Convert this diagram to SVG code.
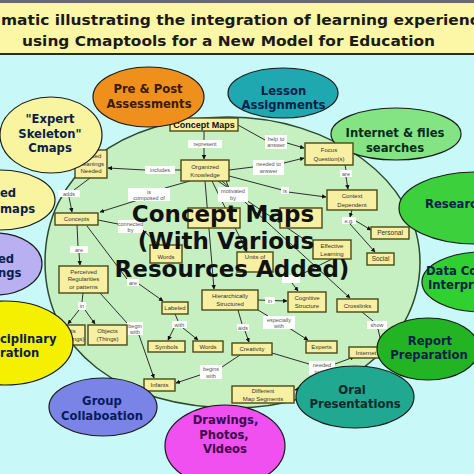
<svg xmlns="http://www.w3.org/2000/svg" width="474" height="474" viewBox="0 0 474 474">
<defs>
<marker id="ah" viewBox="0 0 10 10" refX="9" refY="5" markerWidth="5" markerHeight="5" orient="auto"><path d="M0,0 L10,5 L0,10 z" fill="#111"/></marker>
<style>
.ttl{font-family:"DejaVu Sans",sans-serif;font-weight:bold;font-size:14.5px;fill:#1a1a1a}
.et{font-family:"DejaVu Sans",sans-serif;font-weight:bold;font-size:11.6px;text-anchor:middle}
.es{stroke:#1a1a1a;stroke-width:1.2}
.box{fill:#f7efa2;stroke:#4a4a18;stroke-width:1.4}
.bt{font-family:"Liberation Sans",sans-serif;font-size:6px;fill:#333;text-anchor:middle}
.lb{fill:#ffffff}
.lt{font-family:"Liberation Sans",sans-serif;font-size:5.5px;fill:#555;text-anchor:middle}
.c{stroke:#1a1a1a;stroke-width:0.9;fill:none}
.ca{stroke:#1a1a1a;stroke-width:0.9;fill:none;marker-end:url(#ah)}
.big{font-family:"DejaVu Sans",sans-serif;font-weight:bold;font-size:23px;fill:#111;text-anchor:middle}
</style>
</defs>
<rect x="0" y="0" width="474" height="474" fill="#c8f8f8"/>
<g id="banner">
<rect x="0" y="0" width="474" height="55" fill="#fbf7a6"/>
<rect x="0" y="0" width="474" height="3" fill="#686868"/>
<rect x="0" y="53" width="474" height="2" fill="#2a2a2a"/>
<text class="ttl" x="1" y="25" textLength="478" lengthAdjust="spacingAndGlyphs">matic  illustrating the integration of learning experienc</text>
<text class="ttl" x="22" y="46" textLength="413" lengthAdjust="spacingAndGlyphs">using Cmaptools for a New Model for Education</text>
</g>
<g id="main-ellipse">
<path d="M45,262 C45,175 120,117 228,117 C330,117 420,180 420,262 C420,350 330,408 235,408 C120,408 45,350 45,262 Z" fill="#c6f0c2" stroke="#2c4a2c" stroke-width="1.5"/>
</g>
<g id="n-internet">
<ellipse class="es" cx="396" cy="134" rx="65" ry="26" fill="#84e484"/>
<text class="et" x="395" y="137" fill="#0a2a1a">Internet &amp; files</text>
<text class="et" x="395" y="152" fill="#0a2a1a">searches</text>
</g>
<g id="connectors">
<path class="ca" d="M204,131 L204,159"/>
<path class="c" d="M181,170 L175,170"/>
<path class="ca" d="M145,170 L108,168"/>
<path class="c" d="M190,181 L165,188"/>
<path class="ca" d="M138,200 L100,212"/>
<path class="c" d="M90,178 L74,190"/>
<path class="ca" d="M69,197 L72,212"/>
<path class="c" d="M238,125 L265,140"/>
<path class="ca" d="M287,143 L304,148"/>
<path class="c" d="M229,170 L253,167"/>
<path class="ca" d="M284,163 L304,158"/>
<path class="c" d="M229,176 L282,190"/>
<path class="ca" d="M288,192 L326,197"/>
<path class="c" d="M226,181 L229,188"/>
<path class="ca" d="M345,165 L346,170 M346,177 L348,189"/>
<path class="ca" d="M352,210 L350,217"/>
<path class="ca" d="M356,221 L371,230"/>
<path class="ca" d="M350,224 L375,252"/>
<path class="c" d="M98,220 L118,224"/>
<path class="ca" d="M143,230 L160,246"/>
<path class="c" d="M77,225 L78,246"/>
<path class="ca" d="M79,253 L80,265"/>
<path class="c" d="M87,226 L127,279"/>
<path class="ca" d="M139,284 L163,301"/>
<path class="ca" d="M205,181 L214,289"/>
<path class="ca" d="M212,181 L247,252"/>
<path class="ca" d="M218,181 L314,246"/>
<path class="ca" d="M222,181 L350,298"/>
<path class="c" d="M332,259 L298,276"/>
<path class="ca" d="M292,283 L298,291"/>
<path class="c" d="M83,293 L82,302"/>
<path class="ca" d="M79,310 L68,324"/>
<path class="ca" d="M85,310 L95,324"/>
<path class="c" d="M100,293 L127,323"/>
<path class="ca" d="M139,335 L154,378"/>
<path class="c" d="M175,314 L178,321"/>
<path class="ca" d="M174,328 L168,340"/>
<path class="ca" d="M183,328 L198,340"/>
<path class="ca" d="M258,300 L287,301"/>
<path class="c" d="M238,310 L242,324"/>
<path class="ca" d="M245,331 L249,342"/>
<path class="c" d="M258,310 L268,316"/>
<path class="ca" d="M289,328 L308,340"/>
<path class="c" d="M240,355 L222,367"/>
<path class="ca" d="M200,375 L176,383"/>
<path class="c" d="M272,353 L309,364"/>
<path class="ca" d="M335,364 L354,357"/>
<path class="c" d="M362,312 L373,321"/>
<path class="ca" d="M378,329 L382,346"/>
<path class="ca" d="M352,376 L295,390"/>
</g>
<g id="labels">
<rect class="lb" x="188" y="140" width="34" height="8"/><text class="lt" x="205" y="146">represent</text>
<rect class="lb" x="145" y="166" width="30" height="8"/><text class="lt" x="160" y="172">includes</text>
<rect class="lb" x="128" y="188" width="42" height="13"/><text class="lt" x="149" y="193.5">is</text><text class="lt" x="149" y="199.5">composed of</text>
<rect class="lb" x="58" y="190" width="22" height="7"/><text class="lt" x="69" y="195.5">adds</text>
<rect class="lb" x="265" y="135" width="22" height="14"/><text class="lt" x="276" y="140.5">help to</text><text class="lt" x="276" y="147">answer</text>
<rect class="lb" x="253" y="160" width="31" height="15"/><text class="lt" x="268.5" y="166">needed to</text><text class="lt" x="268.5" y="173">answer</text>
<rect class="lb" x="281" y="187" width="8" height="7"/><text class="lt" x="285" y="192.5">is</text>
<rect class="lb" x="218" y="187" width="30" height="15"/><text class="lt" x="233" y="193">motivated</text><text class="lt" x="233" y="200">by</text>
<rect class="lb" x="340" y="170" width="12" height="7"/><text class="lt" x="346" y="175.5">are</text>
<rect class="lb" x="342" y="217" width="14" height="7"/><text class="lt" x="349" y="222.5">e.g.</text>
<rect class="lb" x="118" y="220" width="25" height="13"/><text class="lt" x="130.5" y="225.5">connected</text><text class="lt" x="130.5" y="231.5">by</text>
<rect class="lb" x="70" y="246" width="18" height="7"/><text class="lt" x="79" y="251.5">are</text>
<rect class="lb" x="127" y="279" width="12" height="7"/><text class="lt" x="133" y="284.5">are</text>
<rect class="lb" x="282" y="275" width="18" height="8"/>
<rect class="lb" x="78" y="302" width="8" height="8"/><text class="lt" x="82" y="308">in</text>
<rect class="lb" x="127" y="322" width="16" height="13"/><text class="lt" x="135" y="327.5">begin</text><text class="lt" x="135" y="333.5">with</text>
<rect class="lb" x="172" y="321" width="15" height="7"/><text class="lt" x="179.5" y="326.5">with</text>
<rect class="lb" x="265" y="297" width="10" height="7"/><text class="lt" x="270" y="302.5">in</text>
<rect class="lb" x="237" y="324" width="12" height="7"/><text class="lt" x="243" y="329.5">aids</text>
<rect class="lb" x="263" y="316" width="32" height="13"/><text class="lt" x="279" y="321.5">especially</text><text class="lt" x="279" y="327.5">with</text>
<rect class="lb" x="367" y="321" width="20" height="8"/><text class="lt" x="377" y="327">show</text>
<rect class="lb" x="309" y="361" width="26" height="14"/><text class="lt" x="322" y="367">needed</text><text class="lt" x="322" y="373.5">to see</text>
<rect class="lb" x="200" y="365" width="22" height="14"/><text class="lt" x="211" y="371">begins</text><text class="lt" x="211" y="377.5">with</text>
</g>
<g id="n-conceptmaps"><rect class="box" x="170" y="118" width="68" height="13"/><text class="bt" x="204" y="127.5" style="font-size:9px;font-weight:bold;fill:#111">Concept Maps</text></g>
<g id="n-organized"><rect class="box" x="181" y="160" width="48" height="21"/><text class="bt" x="205" y="168.5">Organized</text><text class="bt" x="205" y="177">Knowledge</text></g>
<g id="n-related"><rect class="box" x="75" y="150" width="32" height="28"/><text class="bt" x="91" y="158">Related</text><text class="bt" x="91" y="165.5">Meanings</text><text class="bt" x="91" y="173">Needed</text></g>
<g id="n-concepts"><rect class="box" x="55" y="213" width="43" height="12"/><text class="bt" x="76.5" y="221.2">Concepts</text></g>
<g id="n-focus"><rect class="box" x="305" y="143" width="48" height="22"/><text class="bt" x="329" y="152">Focus</text><text class="bt" x="329" y="160.5">Question(s)</text></g>
<g id="n-context"><rect class="box" x="327" y="190" width="50" height="20"/><text class="bt" x="352" y="198">Context</text><text class="bt" x="352" y="206.5">Dependent</text></g>
<g id="n-personal"><rect class="box" x="371" y="227" width="38" height="12"/><text class="bt" x="390" y="235.2" style="font-size:6.5px">Personal</text></g>
<g id="n-social"><rect class="box" x="367" y="253" width="27" height="12"/><text class="bt" x="380.5" y="261.2" style="font-size:6.5px">Social</text></g>
<g id="n-hidden1"><rect class="box" x="188" y="208" width="52" height="20"/></g>
<g id="n-hidden2"><rect class="box" x="280" y="208" width="42" height="20"/></g>
<g id="n-effective"><rect class="box" x="313" y="240" width="38" height="19"/><text class="bt" x="332" y="248">Effective</text><text class="bt" x="332" y="256">Learning</text></g>
<g id="n-units"><rect class="box" x="237" y="252" width="36" height="20"/><text class="bt" x="255" y="259">Units of</text></g>
<g id="n-linking"><rect class="box" x="150" y="245" width="32" height="18"/><text class="bt" x="166" y="259">Words</text></g>
<g id="n-perceived"><rect class="box" x="59" y="266" width="49" height="27"/><text class="bt" x="83.5" y="273.5">Perceived</text><text class="bt" x="83.5" y="281">Regularities</text><text class="bt" x="83.5" y="288.5">or patterns</text></g>
<g id="n-labeled"><rect class="box" x="162" y="302" width="26" height="12"/><text class="bt" x="175" y="310.2">Labeled</text></g>
<g id="n-hier"><rect class="box" x="202" y="290" width="56" height="20"/><text class="bt" x="230" y="298">Hierarchically</text><text class="bt" x="230" y="306">Structured</text></g>
<g id="n-cognitive"><rect class="box" x="288" y="292" width="38" height="20"/><text class="bt" x="307" y="300">Cognitive</text><text class="bt" x="307" y="308">Structure</text></g>
<g id="n-crosslinks"><rect class="box" x="337" y="299" width="41" height="13"/><text class="bt" x="357.5" y="307.5">Crosslinks</text></g>
<g id="n-events"><rect class="box" x="48" y="325" width="37" height="20"/><text class="bt" x="66.5" y="333">Events</text><text class="bt" x="66.5" y="341">(Happenings)</text></g>
<g id="n-objects"><rect class="box" x="88" y="325" width="39" height="20"/><text class="bt" x="107.5" y="333">Objects</text><text class="bt" x="107.5" y="341">(Things)</text></g>
<g id="n-symbols"><rect class="box" x="148" y="341" width="37" height="11"/><text class="bt" x="166.5" y="348.8">Symbols</text></g>
<g id="n-words"><rect class="box" x="193" y="341" width="30" height="11"/><text class="bt" x="208" y="348.8">Words</text></g>
<g id="n-creativity"><rect class="box" x="232" y="343" width="40" height="12"/><text class="bt" x="252" y="351.2">Creativity</text></g>
<g id="n-experts"><rect class="box" x="306" y="341" width="31" height="12"/><text class="bt" x="321.5" y="349.2">Experts</text></g>
<g id="n-internetbox"><rect class="box" x="349" y="347" width="40" height="11"/><text class="bt" x="366" y="354.8">Internet</text></g>
<g id="n-infants"><rect class="box" x="144" y="379" width="31" height="12"/><text class="bt" x="159.5" y="387.2">Infants</text></g>
<g id="n-different"><rect class="box" x="232" y="386" width="62" height="17"/><text class="bt" x="263" y="393">Different</text><text class="bt" x="263" y="400.5">Map Segments</text></g>
<g id="n-prepost">
<ellipse class="es" cx="148.5" cy="97" rx="55.5" ry="30" fill="#f0901c"/>
<text class="et" x="148" y="93" fill="#3a1a00">Pre &amp; Post</text>
<text class="et" x="149" y="108" fill="#3a1a00">Assessments</text>
</g>
<g id="n-lesson">
<ellipse class="es" cx="283" cy="93" rx="55" ry="25" fill="#20a8b0"/>
<text class="et" x="283.5" y="95" fill="#0a1e4a">Lesson</text>
<text class="et" x="283.5" y="109" fill="#0a1e4a">Assignments</text>
</g>
<g id="n-expert">
<ellipse class="es" cx="51" cy="135" rx="51" ry="38" fill="#f8f4a0"/>
<text class="et" x="50" y="123" fill="#0a1e4a">"Expert</text>
<text class="et" x="50" y="137.5" fill="#0a1e4a">Skeleton"</text>
<text class="et" x="50" y="152" fill="#0a1e4a">Cmaps</text>
</g>
<g id="n-edmaps">
<ellipse class="es" cx="0" cy="200" rx="55" ry="30" fill="#f8f4a0"/>
<text class="et" x="0" y="197" fill="#0a1e4a" style="text-anchor:start">ed</text>
<text class="et" x="0" y="213" fill="#0a1e4a" style="text-anchor:start">maps</text>
</g>
<g id="n-edngs">
<ellipse class="es" cx="-5" cy="264" rx="47" ry="31" fill="#b8b0f0"/>
<text class="et" x="-2" y="263" fill="#0a1e4a" style="text-anchor:start">ed</text>
<text class="et" x="-2" y="277" fill="#0a1e4a" style="text-anchor:start">ngs</text>
</g>
<g id="n-interdisc">
<ellipse class="es" cx="5" cy="343" rx="68" ry="42" fill="#f4f000"/>
<text class="et" x="0" y="343" fill="#0a1e4a" style="text-anchor:start">ciplinary</text>
<text class="et" x="0" y="357" fill="#0a1e4a" style="text-anchor:start">ration</text>
</g>
<g id="n-group">
<ellipse class="es" cx="103" cy="407" rx="54" ry="29" fill="#7a84e6"/>
<text class="et" x="102" y="405" fill="#0a1a5a">Group</text>
<text class="et" x="102" y="420" fill="#0a1a5a">Collaboation</text>
</g>
<g id="n-drawings">
<ellipse class="es" cx="225" cy="446" rx="60" ry="41" fill="#f050f0"/>
<text class="et" x="225.5" y="424" fill="#3a0a4a">Drawings,</text>
<text class="et" x="224" y="438.5" fill="#3a0a4a">Photos,</text>
<text class="et" x="225" y="453" fill="#3a0a4a">Videos</text>
</g>
<g id="n-oral">
<ellipse class="es" cx="355" cy="397" rx="59" ry="31" fill="#20a890"/>
<text class="et" x="352" y="394" fill="#0a2a2a">Oral</text>
<text class="et" x="355" y="408" fill="#0a2a2a">Presentations</text>
</g>
<g id="n-report">
<ellipse class="es" cx="428" cy="349" rx="51" ry="31" fill="#22b422"/>
<text class="et" x="430" y="345" fill="#0a1e4a">Report</text>
<text class="et" x="429" y="359" fill="#0a1e4a">Preparation</text>
</g>
<g id="n-research">
<ellipse class="es" cx="476" cy="208" rx="77" ry="36" fill="#3cd03c"/>
<text class="et" x="425" y="208" fill="#0a1e4a" style="text-anchor:start">Researc</text>
</g>
<g id="n-data">
<ellipse class="es" cx="482" cy="282" rx="60" ry="30" fill="#30d030"/>
<text class="et" x="426" y="275" fill="#0a1e4a" style="text-anchor:start">Data Co</text>
<text class="et" x="428" y="289" fill="#0a1e4a" style="text-anchor:start">Interpr</text>
</g>
<g id="center-title">
<text class="big" x="223" y="222">Concept Maps</text>
<text class="big" x="226" y="249">(With Various</text>
<text class="big" x="232" y="277">Resources Added)</text>
</g>
</svg>
